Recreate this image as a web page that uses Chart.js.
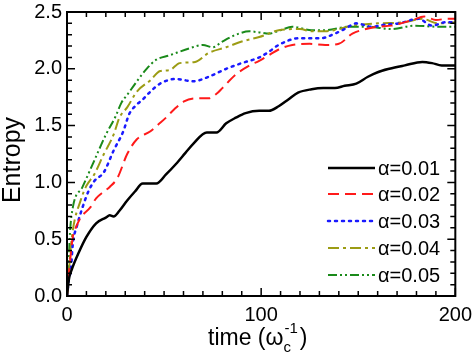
<!DOCTYPE html>
<html><head><meta charset="utf-8">
<script src="https://cdn.jsdelivr.net/npm/chart.js@4"></script>
<style>html,body{margin:0;padding:0;background:#fff;overflow:hidden;}#wrap{width:474px;height:353px;overflow:hidden;}</style>
</head><body><div id="wrap"><canvas id="c" width="479" height="353"></canvas></div>
<script>
const seriesLabels = ['α=0.01','α=0.02','α=0.03','α=0.04','α=0.05'];
const t1 = [0,1,2.4,6,10,15,20,22,24,27,31,35,39,46,51,56,61,65,72,77,82,87,92,99,104,109,114,119,126,132,138,143,149,155,160,166,174,183,188,193,200];
const e1 = [0,0.15,0.23,0.38,0.52,0.64,0.69,0.71,0.70,0.75,0.84,0.92,0.99,0.99,1.07,1.16,1.26,1.34,1.44,1.44,1.52,1.57,1.61,1.63,1.63,1.67,1.73,1.79,1.82,1.83,1.83,1.85,1.87,1.93,1.97,2.00,2.03,2.06,2.05,2.03,2.03];
const t2 = [0,1,2,3,5,7,12,15,19,22,26,31,36,43,47,51,55,60,66,73,77,80,87,94,99,104,109,116,125,133,140,147,154,160,167,172,178,184,190,196,200];
const e2 = [0,0.2,0.38,0.52,0.62,0.69,0.78,0.86,0.92,0.96,1.04,1.25,1.38,1.45,1.51,1.57,1.64,1.71,1.74,1.74,1.78,1.83,1.95,2.03,2.07,2.12,2.17,2.21,2.22,2.21,2.22,2.31,2.35,2.37,2.38,2.40,2.43,2.46,2.43,2.44,2.44];
const t3 = [0,1,2,3,5,8,11,14,19,24,29,32,35,39,43,48,56,65,73,82,90,99,104,109,120,131,138,143,149,157,164,171,181,188,195,200];
const e3 = [0,0.15,0.23,0.46,0.61,0.78,0.92,1.01,1.09,1.28,1.45,1.60,1.67,1.73,1.80,1.87,1.91,1.89,1.93,2.00,2.05,2.10,2.15,2.21,2.27,2.27,2.31,2.35,2.40,2.37,2.39,2.40,2.44,2.38,2.41,2.41];
const t4 = [0,1,1.5,3,7,10,14,19,24,27,31,36,43,48,53,58,66,73,82,90,99,104,109,120,126,133,140,147,160,174,183,191,200];
const e4 = [0,0.2,0.34,0.58,0.84,0.97,1.07,1.25,1.42,1.57,1.66,1.80,1.90,1.98,1.99,2.05,2.06,2.14,2.19,2.24,2.28,2.31,2.34,2.35,2.33,2.33,2.35,2.38,2.40,2.41,2.44,2.40,2.41];
const t5 = [0,1,1.5,3,8,14,20,25,28,31,36,41,46,53,63,70,75,80,87,94,99,104,110,116,126,133,145,155,167,179,191,200];
const e5 = [0,0.35,0.55,0.78,0.96,1.19,1.42,1.58,1.70,1.77,1.89,2.00,2.08,2.12,2.18,2.21,2.19,2.24,2.30,2.33,2.32,2.31,2.34,2.37,2.34,2.34,2.37,2.37,2.35,2.38,2.37,2.37];
const xTickLabels = ['0','100','200'];
const yTickLabels = ['0.0','0.5','1.0','1.5','2.0','2.5'];

const colors = ['#000000','#ff1a1a','#1a1aff','#9c9c14','#1a8a1a'];
const dashes = [[], [11,6], [2,5], [11,4,3,4], [9,3,2,3,2,3]];
const widths = [2.5, 2, 2.5, 2, 2];
const ts = [t1,t2,t3,t4,t5], es = [e1,e2,e3,e4,e5];
const FONT = '"Liberation Sans", Arial, sans-serif';

const datasets = ts.map((t,i)=>({
  label: seriesLabels[i],
  data: t.map((x,k)=>({x:x,y:es[i][k]})),
  borderColor: colors[i], borderWidth: widths[i], borderDash: dashes[i],
  borderCapStyle: i===2 ? 'round' : 'butt',
  pointRadius: 0, fill:false, cubicInterpolationMode:'monotone'
}));

const framePlugin = {
  id:'frame',
  afterDraw(chart){
    const ctx = chart.ctx, a = chart.chartArea, xs = chart.scales.x, ys = chart.scales.y;
    ctx.save();
    ctx.strokeStyle = '#000'; ctx.lineWidth = 2;
    ctx.strokeRect(a.left, a.top, a.right-a.left, a.bottom-a.top);
    ctx.lineWidth = 1.5;
    ctx.beginPath();
    for (let v=0; v<=200; v+=10){
      const x = xs.getPixelForValue(v), L = (v%100===0)?8:5;
      ctx.moveTo(x,a.bottom); ctx.lineTo(x,a.bottom-L);
      ctx.moveTo(x,a.top); ctx.lineTo(x,a.top+L);
    }
    for (let k=0; k<=25; k++){
      const y = ys.getPixelForValue(k/10), L = (k%5===0)?8:5;
      ctx.moveTo(a.left,y); ctx.lineTo(a.left+L,y);
      ctx.moveTo(a.right,y); ctx.lineTo(a.right-L,y);
    }
    ctx.stroke();
    ctx.fillStyle = '#000';
    // y title
    ctx.save();
    ctx.translate(13, 160); ctx.rotate(-Math.PI/2);
    ctx.font = '25px ' + FONT; ctx.textAlign = 'center'; ctx.textBaseline = 'middle';
    ctx.fillText('Entropy', 0, 0);
    ctx.restore();
    // x title with sub/superscript
    ctx.textBaseline = 'alphabetic'; ctx.textAlign = 'left';
    let x0 = 208, yb = 345;
    ctx.font = '23px ' + FONT;
    const p1 = 'time (ω';
    ctx.fillText(p1, x0, yb); x0 += ctx.measureText(p1).width;
    ctx.font = '15px ' + FONT;
    ctx.fillText('c', x0, yb+7);
    ctx.fillText('-1', x0+1, yb-12);
    x0 += ctx.measureText('-1').width + 3;
    ctx.font = '23px ' + FONT;
    ctx.fillText(')', x0, yb);
    // legend
    const rows = [168,194,221,248,275];
    ctx.font = '20px ' + FONT; ctx.textBaseline = 'middle';
    chart.data.datasets.forEach((d,i)=>{
      const y = rows[i];
      ctx.save();
      ctx.strokeStyle = d.borderColor; ctx.lineWidth = d.borderWidth; ctx.setLineDash(d.borderDash);
      ctx.lineCap = d.borderCapStyle;
      ctx.beginPath(); ctx.moveTo(328,y); ctx.lineTo(375,y); ctx.stroke();
      ctx.restore();
      ctx.fillStyle = '#000';
      ctx.fillText(d.label, 378, y+1);
    });
    ctx.restore();
  }
};

new Chart(document.getElementById('c'), {
  type:'line',
  data:{datasets},
  options:{
    responsive:false, animation:false,
    layout:{padding:{left:0,right:0,top:10,bottom:0}},
    plugins:{legend:{display:false}, tooltip:{enabled:false}},
    scales:{
      x:{type:'linear', min:0, max:200,
        grid:{display:false, drawTicks:false}, border:{display:false},
        afterFit:(s)=>{s.height = 57;},
        ticks:{stepSize:100, color:'#000', font:{size:20, family:FONT}, padding:7, maxRotation:0,
          callback:(v)=>{const i=[0,100,200].indexOf(v); return i>=0?xTickLabels[i]:null;}}},
      y:{min:0, max:2.5,
        grid:{display:false, drawTicks:false}, border:{display:false},
        afterFit:(s)=>{s.width = 67;},
        ticks:{stepSize:0.5, color:'#000', font:{size:20, family:FONT, lineHeight:0.7}, padding:5,
          callback:(v)=>{const i=Math.round(v*2); return yTickLabels[i];}}}
    }
  },
  plugins:[framePlugin]
});
</script></body></html>
